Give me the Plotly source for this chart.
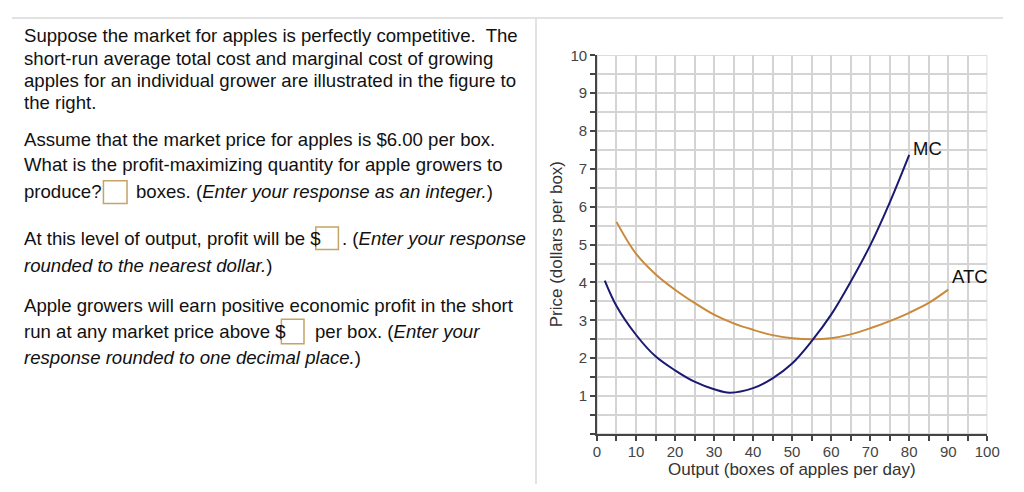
import plotly.graph_objects as go

# values
mc_x = [2, 5, 10, 15, 20, 25, 30, 34, 40, 45, 50, 55, 60, 65, 70, 75, 80]
mc_y = [4.05, 3.38, 2.62, 2.05, 1.68, 1.38, 1.18, 1.09, 1.21, 1.47, 1.86, 2.45, 3.15, 4.02, 4.98, 6.11, 7.37]

atc_x = [5, 10, 15, 20, 25, 30, 35, 40, 45, 50, 55, 60, 65, 70, 75, 80, 85, 90]
atc_y = [5.6, 4.76, 4.22, 3.81, 3.46, 3.15, 2.92, 2.75, 2.61, 2.53, 2.5, 2.53, 2.63, 2.79, 2.98, 3.2, 3.46, 3.81]

x_ticks = list(range(0, 101, 5))
x_labels = [str(v) if v % 10 == 0 else "" for v in x_ticks]
y_ticks = [v / 2 for v in range(0, 21)]
y_labels = [str(int(v)) if v % 1 == 0 and v > 0 else "" for v in y_ticks]

# the page keeps an 8px body margin, so the figure is 16px smaller than the window
PAGE_MARGIN = 8
W, H = 1024 - 2 * PAGE_MARGIN, 492 - 2 * PAGE_MARGIN
FONT = "Liberation Sans, Arial, Helvetica, sans-serif"
BOX_COLOR = "#c4a468"


def px(x):
    # window pixel -> paper fraction
    return (x - PAGE_MARGIN) / W


def py(y):
    return 1 - (y - PAGE_MARGIN) / H


# question text on the left: (text, x px, y px)
text_lines = [
    ("Suppose the market for apples is perfectly competitive.&#160; The", 18, 27),
    ("short-run average total cost and marginal cost of growing", 18, 50),
    ("apples for an individual grower are illustrated in the figure to", 18, 73),
    ("the right.", 18, 95),
    ("Assume that the market price for apples is $6.00 per box.", 18, 133),
    ("What is the profit-maximizing quantity for apple growers to", 18, 158),
    ("produce?", 18, 186),
    ("boxes. (<i>Enter your response as an integer.</i>)", 132, 186),
    ("At this level of output, profit will be $", 18, 234),
    (". (<i>Enter your response</i>", 342, 234),
    ("<i>rounded to the nearest dollar.</i>)", 18, 261),
    ("Apple growers will earn positive economic profit in the short", 18, 302),
    ("run at any market price above $", 18, 329),
    ("per box. (<i>Enter your</i>", 314, 329),
    ("<i>response rounded to one decimal place.</i>)", 18, 355),
]

# answer boxes: x0, x1, y0, y1 in px
answer_boxes = [(101, 125, 175, 198), (317, 340, 222, 245), (282, 305, 316, 341)]

fig = go.Figure()

fig.add_trace(go.Scatter(
    x=atc_x, y=atc_y, mode="lines",
    line=dict(color="#c98a3c", width=2, shape="spline", smoothing=1),
    hoverinfo="skip",
))
fig.add_trace(go.Scatter(
    x=mc_x, y=mc_y, mode="lines",
    line=dict(color="#1a1a72", width=2, shape="spline", smoothing=1),
    hoverinfo="skip",
))

annotations = []
for txt, x, y in text_lines:
    annotations.append(dict(
        text=txt, x=px(x), y=py(y), xref="paper", yref="paper",
        xanchor="left", yanchor="middle", showarrow=False,
        font=dict(family=FONT, size=18.6, color="#111111"),
    ))

# curve labels
annotations.append(dict(text="MC", x=80.4, y=7.55, xref="x", yref="y",
                        xanchor="left", yanchor="middle", showarrow=False,
                        font=dict(family=FONT, size=18.5, color="#111111")))
annotations.append(dict(text="ATC", x=90.5, y=4.17, xref="x", yref="y",
                        xanchor="left", yanchor="middle", showarrow=False,
                        font=dict(family=FONT, size=18.5, color="#111111")))

# axis titles
annotations.append(dict(text="Output (boxes of apples per day)", x=px(801.5), y=py(469),
                        xref="paper", yref="paper", xanchor="center", yanchor="middle",
                        showarrow=False, font=dict(family=FONT, size=17, color="#333333")))
annotations.append(dict(text="Price (dollars per box)", x=px(562), y=py(240),
                        xref="paper", yref="paper", xanchor="center", yanchor="middle",
                        textangle=-90, showarrow=False,
                        font=dict(family=FONT, size=17, color="#333333")))

shapes = []
for x0, x1, y0, y1 in answer_boxes:
    shapes.append(dict(type="rect", xref="paper", yref="paper",
                       x0=px(x0), x1=px(x1), y0=py(y1), y1=py(y0),
                       line=dict(color=BOX_COLOR, width=1.5), fillcolor="white"))

# page frame: top rule and vertical divider
shapes.append(dict(type="line", xref="paper", yref="paper", x0=0, x1=1,
                   y0=py(9), y1=py(9), line=dict(color="#e2e2e2", width=2)))
shapes.append(dict(type="line", xref="paper", yref="paper", x0=px(541), x1=px(541),
                   y0=py(9), y1=0, line=dict(color="#e2e2e2", width=2)))

# plot frame (light grey on top / right)
shapes.append(dict(type="rect", xref="x", yref="y", x0=0, x1=100, y0=0, y1=10,
                   line=dict(color="#d0d0d0", width=1.5), layer="below"))

fig.update_layout(
    width=W, height=H,
    margin=dict(l=0, r=0, t=0, b=0),
    paper_bgcolor="white",
    plot_bgcolor="white",
    showlegend=False,
    annotations=annotations,
    shapes=shapes,
    xaxis=dict(
        domain=[px(603), px(1000)],
        range=[0, 100],
        tickvals=x_ticks, ticktext=x_labels,
        ticks="outside", ticklen=5, tickwidth=1.5, tickcolor="#444444",
        tickfont=dict(family=FONT, size=15, color="#444444"),
        ticklabelstandoff=-2,
        showgrid=True, gridcolor="#d4d4d4", gridwidth=1.5,
        zeroline=False,
        showline=True, linecolor="#444444", linewidth=1.5,
        fixedrange=True,
    ),
    yaxis=dict(
        domain=[py(433), py(47)],
        range=[0, 10],
        tickvals=y_ticks, ticktext=y_labels,
        ticks="outside", ticklen=5, tickwidth=1.5, tickcolor="#444444",
        tickfont=dict(family=FONT, size=15, color="#444444"),
        showgrid=True, gridcolor="#d4d4d4", gridwidth=1.5,
        zeroline=False,
        showline=True, linecolor="#444444", linewidth=1.5,
        fixedrange=True,
    ),
)

fig.write_html("out.html", config={"displayModeBar": False})
